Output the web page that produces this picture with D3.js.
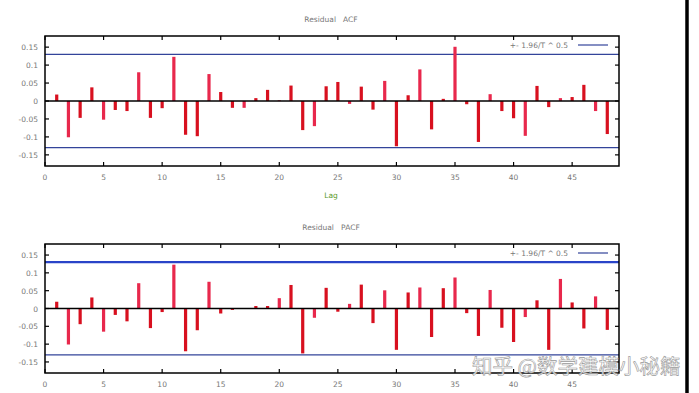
<!DOCTYPE html>
<html>
<head>
<meta charset="utf-8">
<script src="https://cdn.jsdelivr.net/npm/d3@7"></script>
<style>
  body { margin: 0; background: white; }
  svg { display: block; font-family: "DejaVu Sans", sans-serif; }
</style>
</head>
<body>
<div id="chart"></div>
<script>
const lags = d3.range(1, 49);
const acfValues = [
  0.018, -0.101, -0.047, 0.038, -0.052, -0.025, -0.028, 0.080, -0.047, -0.020,
  0.123, -0.094, -0.098, 0.075, 0.025, -0.019, -0.019, 0.008, 0.031, 0.002,
  0.043, -0.081, -0.070, 0.041, 0.053, -0.008, 0.040, -0.024, 0.056, -0.126,
  0.016, 0.088, -0.079, 0.006, 0.151, -0.009, -0.114, 0.019, -0.028, -0.048,
  -0.097, 0.042, -0.017, 0.008, 0.011, 0.045, -0.028, -0.092
];
const pacfValues = [
  0.019, -0.101, -0.044, 0.031, -0.065, -0.018, -0.036, 0.071, -0.055, -0.010,
  0.123, -0.120, -0.061, 0.075, -0.014, -0.004, 0.001, 0.007, 0.007, 0.029,
  0.066, -0.126, -0.026, 0.058, -0.009, 0.013, 0.067, -0.041, 0.051, -0.116,
  0.045, 0.059, -0.080, 0.057, 0.087, -0.013, -0.077, 0.052, -0.054, -0.094,
  -0.024, 0.023, -0.116, 0.083, 0.017, -0.056, 0.034, -0.060
];
const yTicks = [-0.15, -0.1, -0.05, 0, 0.05, 0.1, 0.15];
const yTickLabels = ["-0.15", "-0.1", "-0.05", "0", "0.05", "0.1", "0.15"];
const xTicks = [0, 5, 10, 15, 20, 25, 30, 35, 40, 45];
const bound = 0.13;
const legendText = "+- 1.96/T ^ 0.5";

const svg = d3.select("#chart").append("svg")
  .attr("width", 699).attr("height", 393);

function drawPanel(cfg) {
  const x = d3.scaleLinear().domain([0, 49]).range([45, 619]);
  const y = d3.scaleLinear().domain([-0.181, 0.181]).range([cfg.bottom, cfg.top]);
  const g = svg.append("g");

  // title
  g.append("text")
    .attr("x", 331).attr("y", cfg.titleY)
    .attr("text-anchor", "middle")
    .attr("font-size", 7.5).attr("fill", "#777")
    .attr("xml:space", "preserve")
    .text(cfg.title);

  // confidence bounds
  g.append("line")
    .attr("x1", x(0)).attr("x2", x(49))
    .attr("y1", y(bound)).attr("y2", y(bound))
    .attr("stroke", cfg.upperColor).attr("stroke-width", cfg.upperWidth);
  g.append("line")
    .attr("x1", x(0)).attr("x2", x(49))
    .attr("y1", y(-bound)).attr("y2", y(-bound))
    .attr("stroke", "#33449a").attr("stroke-width", 1.2);

  // bars
  g.selectAll("rect.bar")
    .data(cfg.values)
    .enter()
    .append("rect")
    .attr("class", "bar")
    .attr("x", (d, i) => x(lags[i]) - 1.6)
    .attr("width", 3.2)
    .attr("y", d => y(Math.max(d, 0)))
    .attr("height", d => Math.max(0.8, Math.abs(y(d) - y(0))))
    .attr("fill", (d, i) => i % 3 === 1 ? "#e8284c" : "#d8101f");

  // zero line
  g.append("line")
    .attr("x1", x(0)).attr("x2", x(49))
    .attr("y1", y(0)).attr("y2", y(0))
    .attr("stroke", "black").attr("stroke-width", 1.3);

  // frame
  g.append("rect")
    .attr("x", x(0)).attr("y", cfg.top)
    .attr("width", x(49) - x(0)).attr("height", cfg.bottom - cfg.top)
    .attr("fill", "none").attr("stroke", "black").attr("stroke-width", 1.5);

  // y ticks on both sides
  yTicks.forEach((t, i) => {
    g.append("line")
      .attr("x1", x(0)).attr("x2", x(0) + 4)
      .attr("y1", y(t)).attr("y2", y(t))
      .attr("stroke", "black").attr("stroke-width", 1.2);
    g.append("line")
      .attr("x1", x(49) - 4).attr("x2", x(49))
      .attr("y1", y(t)).attr("y2", y(t))
      .attr("stroke", "black").attr("stroke-width", 1.2);
    g.append("text")
      .attr("x", 38).attr("y", y(t) + 3)
      .attr("text-anchor", "end")
      .attr("font-size", 7.5).attr("fill", "#777")
      .text(yTickLabels[i]);
  });

  // x ticks
  xTicks.forEach(t => {
    g.append("line")
      .attr("x1", x(t)).attr("x2", x(t))
      .attr("y1", cfg.top).attr("y2", cfg.top + 4)
      .attr("stroke", "black").attr("stroke-width", 1.2);
    g.append("line")
      .attr("x1", x(t)).attr("x2", x(t))
      .attr("y1", cfg.bottom - 4).attr("y2", cfg.bottom)
      .attr("stroke", "black").attr("stroke-width", 1.2);
    g.append("text")
      .attr("x", x(t)).attr("y", cfg.bottom + 13.5)
      .attr("text-anchor", "middle")
      .attr("font-size", 7.5).attr("fill", "#777")
      .text(t);
  });

  // legend
  g.append("text")
    .attr("x", 568).attr("y", cfg.legendY + 3)
    .attr("text-anchor", "end")
    .attr("font-size", 7.5).attr("fill", "#777")
    .text(legendText);
  g.append("line")
    .attr("x1", 578).attr("x2", 608)
    .attr("y1", cfg.legendY).attr("y2", cfg.legendY)
    .attr("stroke", "#33449a").attr("stroke-width", 1.2);
}

drawPanel({
  title: "Residual   ACF", titleY: 22, top: 36, bottom: 166,
  values: acfValues, legendY: 45, upperColor: "#33449a", upperWidth: 1.2
});
drawPanel({
  title: "Residual   PACF", titleY: 230, top: 244, bottom: 373,
  values: pacfValues, legendY: 253, upperColor: "#2a44c8", upperWidth: 2.2
});

// x axis label of the top panel
svg.append("text")
  .attr("x", 331).attr("y", 198)
  .attr("text-anchor", "middle")
  .attr("font-size", 7.5).attr("fill", "#5a9a2a")
  .text("Lag");

// black edge on the right
svg.append("line")
  .attr("x1", 687).attr("x2", 687)
  .attr("y1", 0).attr("y2", 393)
  .attr("stroke", "black").attr("stroke-width", 3.5);

// watermark
svg.append("text")
  .attr("x", 472).attr("y", 374)
  .attr("font-family", "Noto Sans CJK SC")
  .attr("font-size", 20.5)
  .attr("fill", "rgba(255,255,255,0.85)")
  .attr("stroke", "#999").attr("stroke-width", 0.6)
  .text("知乎 @数学建模小秘籍");
</script>
</body>
</html>
